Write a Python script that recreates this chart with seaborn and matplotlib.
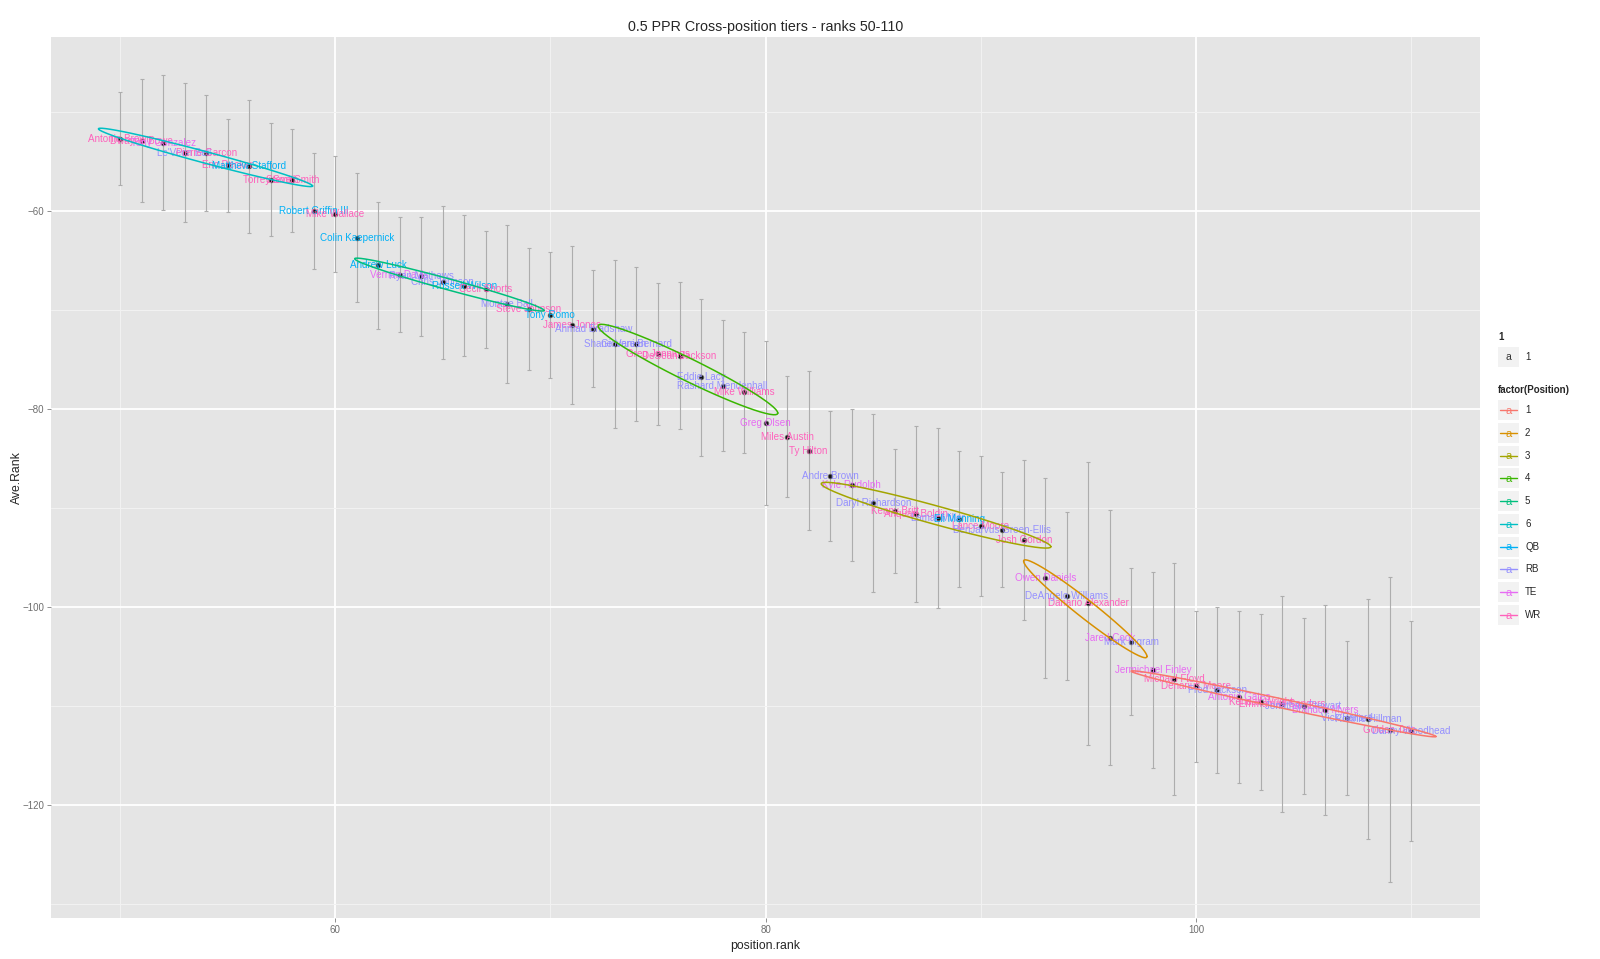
import numpy as np
import pandas as pd
import matplotlib
matplotlib.use('Agg')
import matplotlib.pyplot as plt
import matplotlib.patches as patches
from matplotlib.lines import Line2D
import seaborn as sns

# position rank 50..110
position_rank = list(range(50, 111))
players = [
    'Antonio Brown', 'Dwayne Bowe', 'Tony Gonzalez', "Le'Veon Bell", 'Pierre Garcon',
    'Eric Decker', 'Matthew Stafford', 'Torrey Smith', 'Steve Smith', 'Robert Griffin III',
    'Mike Wallace', 'Colin Kaepernick', 'Andrew Luck', 'Vernon Davis', 'Ryan Mathews',
    'Chris Johnson', 'Russell Wilson', 'Cecil Shorts', 'Montee Ball', 'Steve Johnson',
    'Tony Romo', 'James Jones', 'Ahmad Bradshaw', 'Shane Vereen', 'Giovani Bernard',
    'Greg Jennings', 'DeSean Jackson', 'Eddie Lacy', 'Rashard Mendenhall', 'Mike Williams',
    'Greg Olsen', 'Miles Austin', 'Ty Hilton', 'Andre Brown', 'Kyle Rudolph',
    'Daryl Richardson', 'Kenny Britt', 'Anquan Boldin', 'Lamar Miller', 'Eli Manning',
    'Lance Moore', 'BenJarvus Green-Ellis', 'Josh Gordon', 'Owen Daniels', 'DeAngelo Williams',
    'Danario Alexander', 'Jared Cook', 'Mark Ingram', 'Jermichael Finley', 'Michael Floyd',
    'Denarius Moore', 'Fred Jackson', 'Antonio Gates', 'Kendall Wright', 'Emmanuel Sanders',
    'Jonathan Stewart', 'Brandon Myers', 'Vick Ballard', 'Ronnie Hillman', 'Golden Tate',
    'Danny Woodhead',
]
positions = [
    'WR', 'WR', 'TE', 'RB', 'WR', 'WR', 'QB', 'WR', 'WR', 'QB',
    'WR', 'QB', 'QB', 'TE', 'RB', 'RB', 'QB', 'WR', 'RB', 'WR',
    'QB', 'WR', 'RB', 'RB', 'RB', 'WR', 'WR', 'RB', 'RB', 'WR',
    'TE', 'WR', 'WR', 'RB', 'TE', 'RB', 'WR', 'WR', 'RB', 'QB',
    'WR', 'RB', 'WR', 'TE', 'RB', 'WR', 'TE', 'RB', 'TE', 'WR',
    'WR', 'RB', 'TE', 'WR', 'WR', 'RB', 'TE', 'RB', 'RB', 'WR',
    'RB',
]
ave_rank = [
    52.7, 52.9, 53.1, 54.1, 54.15, 55.4, 55.5, 56.85, 56.9, 60.0,
    60.3, 62.7, 65.5, 66.45, 66.6, 67.2, 67.55, 67.9, 69.4, 69.9,
    70.5, 71.5, 71.9, 73.4, 73.45, 74.45, 74.6, 76.8, 77.65, 78.3,
    81.4, 82.8, 84.2, 86.75, 87.65, 89.5, 90.3, 90.6, 91.0, 91.1,
    91.8, 92.2, 93.2, 97.1, 98.9, 99.6, 103.1, 103.5, 106.4, 107.3,
    108.0, 108.4, 109.1, 109.6, 109.8, 110.0, 110.4, 111.2, 111.3, 112.4,
    112.5,
]
rank_sd = [
    4.7, 6.2, 6.8, 7.0, 5.9, 4.7, 6.7, 5.7, 5.2, 5.9,
    5.9, 6.5, 6.4, 5.8, 6.0, 7.7, 7.1, 5.9, 8.0, 6.2,
    6.4, 8.0, 5.9, 8.5, 7.8, 7.2, 7.4, 7.9, 6.6, 6.1,
    8.3, 6.1, 8.0, 6.6, 7.7, 9.0, 6.3, 8.9, 9.1, 6.9,
    7.1, 5.8, 8.1, 10.1, 8.5, 14.3, 12.9, 7.4, 9.9, 11.7,
    7.6, 8.4, 8.7, 8.9, 10.9, 8.9, 10.6, 7.8, 12.1, 15.4,
    11.1,
]
# tier per player (0 = no ellipse drawn)
tiers = [6] * 9 + [0] * 3 + [5] * 8 + [0] * 3 + [4] * 8 + [0] * 2 + [3] * 10 + [2] * 5 + [1] * 13

level_names = ['1', '2', '3', '4', '5', '6', 'QB', 'RB', 'TE', 'WR']
level_colors = ['#F8766D', '#D89000', '#A3A500', '#39B600', '#00BF7D',
                '#00BFC4', '#00B0F6', '#9590FF', '#E76BF3', '#FF62BC']
pal = dict(zip(level_names, level_colors))

df = pd.DataFrame({'position.rank': position_rank, 'Player': players,
                   'Position': positions, 'Ave.Rank': ave_rank,
                   'sd': rank_sd, 'tier': tiers})
df['y'] = -df['Ave.Rank']


def cov_trob(x, nu=5, maxit=25, tol=0.01):
    # multivariate t robust estimate (like MASS::cov.trob)
    n, p = x.shape
    loc = x.mean(axis=0)
    w = np.ones(n)
    for _ in range(maxit):
        w0 = w
        X = x - loc
        _, d, vt = np.linalg.svd(np.sqrt(w / w.sum())[:, None] * X, full_matrices=False)
        wX = X @ vt.T / d
        Q = (wX ** 2).sum(axis=1)
        w = (nu + p) / (nu + Q)
        loc = (w[:, None] * x).sum(axis=0) / w.sum()
        if np.all(np.abs(w - w0) < tol):
            break
    X = x - loc
    cov = (np.sqrt(w)[:, None] * X).T @ (np.sqrt(w)[:, None] * X) / n
    return loc, cov


def ellipse_path(x, radius=2.05, segments=60):
    center, shape = cov_trob(x)
    ang = np.linspace(0, 2 * np.pi, segments)
    unit = np.column_stack([np.cos(ang), np.sin(ang)])
    chol = np.linalg.cholesky(shape).T
    return center + radius * unit @ chol


sns.set_theme(style='darkgrid', rc={'axes.facecolor': '#E5E5E5',
                                     'grid.color': 'white'})
plt.rcParams['font.family'] = ['Liberation Sans', 'DejaVu Sans']

fig = plt.figure(figsize=(16, 9.59), dpi=100)
ax = fig.add_axes([0.032, 0.0428, 0.893, 0.9189])

ax.errorbar(df['position.rank'], df['y'], yerr=df['sd'], fmt='none',
            ecolor='#ADADAD', elinewidth=0.8, capsize=1.6, capthick=0.8, zorder=2)
sns.scatterplot(data=df, x='position.rank', y='y', color='#111111', s=11,
                edgecolor='#666666', linewidth=0.6, legend=False, ax=ax, zorder=3)

for _, r in df.iterrows():
    ax.text(r['position.rank'], r['y'], r['Player'], color=pal[r['Position']],
            fontsize=7.1, ha='center', va='center', zorder=4)

for t in range(1, 7):
    sub = df[df['tier'] == t]
    pts = np.column_stack([sub['position.rank'], sub['y']]).astype(float)
    ell = ellipse_path(pts)
    ax.plot(ell[:, 0], ell[:, 1], color=pal[str(t)], lw=1.1, zorder=5)

ax.set_xlim(46.8, 113.2)
ax.set_ylim(-131.4, -42.4)
ax.set_xticks([60, 80, 100])
ax.set_xticks([50, 70, 90, 110], minor=True)
ax.set_yticks([-120, -100, -80, -60])
ax.set_yticks([-130, -110, -90, -70, -50], minor=True)
ax.grid(which='major', color='white', lw=1.3)
ax.grid(which='minor', color='#F2F2F2', lw=0.7)
ax.set_axisbelow(True)
for s in ax.spines.values():
    s.set_visible(False)
ax.tick_params(axis='both', which='major', length=3, width=0.6, color='#7F7F7F',
               labelcolor='#6E6E6E', labelsize=7, pad=2, bottom=True, left=True)
ax.tick_params(axis='both', which='minor', length=0)
ax.set_xlabel('position.rank', fontsize=8.8, labelpad=4)
ax.set_ylabel('Ave.Rank', fontsize=8.8)
ax.yaxis.set_label_coords(-0.02, 0.5)
ax.set_title('0.5 PPR Cross-position tiers - ranks 50-110', fontsize=10.3, pad=4)

# legends drawn by hand, ggplot style
W, H = 1600.0, 959.0
def fx(x):
    return x / W
def fy(y):
    return 1 - y / H

fig.text(fx(1498), fy(337), '1', fontsize=7, fontweight='bold', ha='left', va='center')
fig.patches.append(patches.Rectangle((fx(1498), fy(367)), 21 / W, 20 / H,
                   transform=fig.transFigure, facecolor='#F2F2F2', edgecolor='none'))
fig.text(fx(1508.5), fy(357), 'a', fontsize=7.5, color='#333333', ha='center', va='center')
fig.text(fx(1525), fy(357), '1', fontsize=7, ha='left', va='center')

fig.text(fx(1498), fy(390), 'factor(Position)', fontsize=7, fontweight='bold',
         ha='left', va='center')
for i, (name, col) in enumerate(zip(level_names, level_colors)):
    yc = 410 + i * 22.75
    fig.patches.append(patches.Rectangle((fx(1498), fy(yc + 10)), 21 / W, 20 / H,
                       transform=fig.transFigure, facecolor='#F2F2F2', edgecolor='none'))
    fig.lines.append(Line2D([fx(1500), fx(1517)], [fy(yc), fy(yc)], color=col, lw=1.0,
                            transform=fig.transFigure))
    fig.text(fx(1508.5), fy(yc + 1), 'a', fontsize=8, color=col, ha='center', va='center')
    fig.text(fx(1525), fy(yc), name, fontsize=7, ha='left', va='center')

fig.savefig('out.png', dpi=100)
